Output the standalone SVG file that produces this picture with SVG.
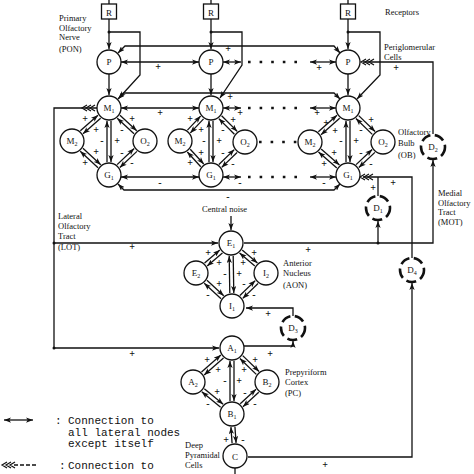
<svg xmlns="http://www.w3.org/2000/svg" width="474" height="474" viewBox="0 0 474 474">
<style>
.l{fill:none;stroke:#111;stroke-width:1.3}
.ae{marker-end:url(#a)}
.ab{marker-start:url(#a);marker-end:url(#a)}
.dot{fill:none;stroke:#111;stroke-width:2.6;stroke-dasharray:2.6 9}
.n{fill:#fff;stroke:#111;stroke-width:1.3}
.d{fill:#fff;stroke:#111;stroke-width:2.6;stroke-dasharray:10 4.5}
.t{font-family:"Liberation Serif",serif;font-size:9px;fill:#111;text-anchor:middle}
.s{font-family:"Liberation Serif",serif;font-size:10px;fill:#111;text-anchor:middle;font-weight:bold}
.lab{font-family:"Liberation Serif",serif;font-size:8.5px;fill:#111}
.m{font-family:"Liberation Mono",monospace;font-size:11px;fill:#111}
.jd{fill:#111}
</style>
<defs>
<marker id="a" viewBox="0 0 8 6" refX="8" refY="3" markerWidth="7" markerHeight="5.5" markerUnits="userSpaceOnUse" orient="auto-start-reverse"><path d="M0,0 L8,3 L0,6 L2,3 z" fill="#111"/></marker>
<path id="ch3" d="M5,-3 L0,0 L5,3 M9,-3 L4,0 L9,3 M13,-3 L8,0 L13,3" fill="none" stroke="#111" stroke-width="1.2"/>
</defs>

<g id="connectors">
<path class="l" d="M109,0 V4 M211,0 V4 M348,0 V4"/>
<path class="l ae" d="M109,19 V49"/>
<path class="l ae" d="M211,19 V49"/>
<path class="l ae" d="M348,19 V49"/>
<path class="l ae" d="M109,32 H140 V75 L119,98"/>
<path class="l ae" d="M211,32 H242 V65 L220,98"/>
<path class="l ae" d="M348,32 H380 V75 L357,99"/>
<circle class="jd" cx="109" cy="32" r="1.5"/><circle class="jd" cx="211" cy="32" r="1.5"/><circle class="jd" cx="348" cy="32" r="1.5"/>
<path class="l ae" d="M109,74 V95"/>
<path class="l ae" d="M211,74 V95"/>
<path class="l ae" d="M348,74 V95"/>
<path class="l ab" d="M118,53 L125,46 H334 L340,53"/>
<path class="l ab" d="M121,62 H199"/>
<path class="l ab" d="M223,62 H241"/>
<path class="dot" d="M248,62 H305"/>
<path class="l ab" d="M310,62 H336"/>
<path class="l ab" d="M118,99 L124,93 H334 L340,99"/>
<path class="l ab" d="M121,108 H199"/>
<path class="l ab" d="M223,108 H241"/>
<path class="dot" d="M248,108 H305"/>
<path class="l ab" d="M310,108 H336"/>
<path class="dot" d="M259,142 H298"/>
<path class="l ab" d="M121,177 H199"/>
<path class="l ab" d="M223,177 H241"/>
<path class="dot" d="M248,177 H305"/>
<path class="l ab" d="M310,177 H336"/>
<path class="l ab" d="M118,184 L124,190 H334 L340,184"/>

<g transform="translate(109,108) rotate(138.3)"><line class="l ae" x1="13" y1="-2" x2="36.6" y2="-2"/><line class="l ae" x1="36.6" y1="2" x2="13" y2="2"/></g>
<g transform="translate(109,108) rotate(42.5)"><line class="l ae" x1="13" y1="-2" x2="35.8" y2="-2"/><line class="l ae" x1="35.8" y1="2" x2="13" y2="2"/></g>
<g transform="translate(72,141) rotate(42.6)"><line class="l ae" x1="13" y1="-2" x2="37.2" y2="-2"/><line class="l ae" x1="37.2" y1="2" x2="13" y2="2"/></g>
<g transform="translate(145,141) rotate(136.6)"><line class="l ae" x1="13" y1="-2" x2="36.5" y2="-2"/><line class="l ae" x1="36.5" y1="2" x2="13" y2="2"/></g>
<g transform="translate(109,108) rotate(90)"><line class="l ae" x1="13" y1="-2" x2="54" y2="-2"/><line class="l ae" x1="54" y1="2" x2="13" y2="2"/></g>
<g transform="translate(211,108) rotate(133.2)"><line class="l ae" x1="13" y1="-2" x2="32.3" y2="-2"/><line class="l ae" x1="32.3" y1="2" x2="13" y2="2"/></g>
<g transform="translate(211,108) rotate(45)"><line class="l ae" x1="13" y1="-2" x2="35.1" y2="-2"/><line class="l ae" x1="35.1" y1="2" x2="13" y2="2"/></g>
<g transform="translate(180,141) rotate(47.6)"><line class="l ae" x1="13" y1="-2" x2="33" y2="-2"/><line class="l ae" x1="33" y1="2" x2="13" y2="2"/></g>
<g transform="translate(245,142) rotate(135.9)"><line class="l ae" x1="13" y1="-2" x2="34.4" y2="-2"/><line class="l ae" x1="34.4" y1="2" x2="13" y2="2"/></g>
<g transform="translate(211,108) rotate(90)"><line class="l ae" x1="13" y1="-2" x2="54" y2="-2"/><line class="l ae" x1="54" y1="2" x2="13" y2="2"/></g>
<g transform="translate(348,108) rotate(138.2)"><line class="l ae" x1="13" y1="-2" x2="38" y2="-2"/><line class="l ae" x1="38" y1="2" x2="13" y2="2"/></g>
<g transform="translate(348,108) rotate(44.2)"><line class="l ae" x1="13" y1="-2" x2="35.8" y2="-2"/><line class="l ae" x1="35.8" y1="2" x2="13" y2="2"/></g>
<g transform="translate(310,142) rotate(41)"><line class="l ae" x1="13" y1="-2" x2="37.3" y2="-2"/><line class="l ae" x1="37.3" y1="2" x2="13" y2="2"/></g>
<g transform="translate(383,142) rotate(136.7)"><line class="l ae" x1="13" y1="-2" x2="35.1" y2="-2"/><line class="l ae" x1="35.1" y1="2" x2="13" y2="2"/></g>
<g transform="translate(348,108) rotate(90)"><line class="l ae" x1="13" y1="-2" x2="54" y2="-2"/><line class="l ae" x1="54" y1="2" x2="13" y2="2"/></g>
<g transform="translate(231,243) rotate(139.4)"><line class="l ae" x1="13" y1="-2" x2="33.1" y2="-2"/><line class="l ae" x1="33.1" y1="2" x2="13" y2="2"/></g>
<g transform="translate(231,243) rotate(40.6)"><line class="l ae" x1="13" y1="-2" x2="33.1" y2="-2"/><line class="l ae" x1="33.1" y1="2" x2="13" y2="2"/></g>
<g transform="translate(196,273) rotate(42.5)"><line class="l ae" x1="13" y1="-2" x2="35.8" y2="-2"/><line class="l ae" x1="35.8" y1="2" x2="13" y2="2"/></g>
<g transform="translate(266,273) rotate(135.9)"><line class="l ae" x1="13" y1="-2" x2="34.4" y2="-2"/><line class="l ae" x1="34.4" y1="2" x2="13" y2="2"/></g>
<g transform="translate(231,243) rotate(89.1)"><line class="l ae" x1="13" y1="-2" x2="50" y2="-2"/><line class="l ae" x1="50" y1="2" x2="13" y2="2"/></g>
<g transform="translate(232,348) rotate(138.9)"><line class="l ae" x1="13" y1="-2" x2="38.7" y2="-2"/><line class="l ae" x1="38.7" y1="2" x2="13" y2="2"/></g>
<g transform="translate(232,348) rotate(44.2)"><line class="l ae" x1="13" y1="-2" x2="35.8" y2="-2"/><line class="l ae" x1="35.8" y1="2" x2="13" y2="2"/></g>
<g transform="translate(193,382) rotate(39.4)"><line class="l ae" x1="13" y1="-2" x2="37.4" y2="-2"/><line class="l ae" x1="37.4" y1="2" x2="13" y2="2"/></g>
<g transform="translate(267,382) rotate(137.6)"><line class="l ae" x1="13" y1="-2" x2="34.4" y2="-2"/><line class="l ae" x1="34.4" y1="2" x2="13" y2="2"/></g>
<g transform="translate(232,348) rotate(90)"><line class="l ae" x1="13" y1="-2" x2="53" y2="-2"/><line class="l ae" x1="53" y1="2" x2="13" y2="2"/></g>
<g transform="translate(232,414) rotate(85.9)"><line class="l ae" x1="13" y1="-2" x2="29.1" y2="-2"/><line class="l ae" x1="29.1" y1="2" x2="13" y2="2"/></g>

<path class="l ae" d="M97,108 H54 V348 H219"/>
<use href="#ch3" transform="translate(82,108)"/>
<path class="l ae" d="M54,243 H218"/>
<circle class="jd" cx="54" cy="243" r="1.5"/><circle class="jd" cx="54" cy="348" r="1.5"/>
<path class="l ae" d="M231,216 V230"/>
<path class="l ae" d="M244,243 H433 V160"/>
<path class="l ae" d="M378,243 V221"/>
<circle class="jd" cx="378" cy="243" r="1.5"/>
<path class="l" d="M433,134 V62 H363"/>
<use href="#ch3" transform="translate(361,62)"/>
<path class="l" d="M412,258 V177 H363"/>
<path class="l" d="M378,196 V177"/>
<use href="#ch3" transform="translate(360,177)"/>
<path class="l ae" d="M248,457 H412 V283"/>
<path class="l" d="M235,468 V474"/>
<path class="l ae" d="M293,316 V308 H246"/>
<path class="l ae" d="M244,346 H293 V341"/>
</g>

<g id="signs">
<text class="s" x="228" y="52">+</text>
<text class="s" x="158" y="70">+</text>
<text class="s" x="319" y="71">+</text>
<text class="s" x="396" y="71">+</text>
<text class="s" x="230" y="100">+</text>
<text class="s" x="160" y="116">+</text>
<text class="s" x="240" y="116">+</text>
<text class="s" x="317" y="116">+</text>
<text class="s" x="160" y="186">-</text>
<text class="s" x="240" y="186">-</text>
<text class="s" x="324" y="186">-</text>
<text class="s" x="228" y="200">-</text>
<text class="s" x="373" y="191">+</text>
<text class="s" x="393" y="186">+</text>
<text class="s" x="132" y="250">+</text>
<text class="s" x="132" y="357">+</text>
<text class="s" x="308" y="253">+</text>
<text class="s" x="268" y="317">+</text>
<text class="s" x="270" y="357">+</text>
<text class="s" x="325" y="468">+</text>
<text class="s" x="226" y="443">+</text>
<text class="s" x="243" y="443">-</text>
<text class="s" x="85" y="122">+</text><text class="s" x="96" y="133">+</text>
<text class="s" x="132" y="122">+</text><text class="s" x="122" y="133">-</text>
<text class="s" x="85" y="166">+</text><text class="s" x="96" y="155">+</text>
<text class="s" x="132" y="166">-</text><text class="s" x="122" y="156">-</text>
<text class="s" x="102" y="144">-</text><text class="s" x="117" y="144">+</text>
<text class="s" x="190" y="122">+</text><text class="s" x="201" y="133">+</text>
<text class="s" x="233" y="123">+</text><text class="s" x="223" y="133">-</text>
<text class="s" x="190" y="166">+</text><text class="s" x="201" y="156">+</text>
<text class="s" x="233" y="167">-</text><text class="s" x="223" y="156">-</text>
<text class="s" x="204" y="144">-</text><text class="s" x="219" y="144">+</text>
<text class="s" x="326" y="126">+</text><text class="s" x="335" y="134">+</text>
<text class="s" x="371" y="123">+</text><text class="s" x="361" y="133">-</text>
<text class="s" x="324" y="167">+</text><text class="s" x="334" y="156">+</text>
<text class="s" x="371" y="167">-</text><text class="s" x="361" y="156">-</text>
<text class="s" x="341" y="144">-</text><text class="s" x="356" y="144">+</text>
<text class="s" x="208" y="256">+</text><text class="s" x="219" y="266">+</text>
<text class="s" x="254" y="256">+</text><text class="s" x="243" y="266">+</text>
<text class="s" x="208" y="298">-</text><text class="s" x="219" y="287">+</text>
<text class="s" x="254" y="298">-</text><text class="s" x="244" y="287">-</text>
<text class="s" x="225" y="277">-</text><text class="s" x="239" y="277">+</text>
<text class="s" x="207" y="363">+</text><text class="s" x="218" y="373">+</text>
<text class="s" x="255" y="363">+</text><text class="s" x="244" y="373">+</text>
<text class="s" x="208" y="407">-</text><text class="s" x="217" y="395">+</text>
<text class="s" x="255" y="407">-</text><text class="s" x="245" y="396">-</text>
<text class="s" x="225" y="384">-</text><text class="s" x="239" y="384">+</text>
</g>

<g id="R1"><rect class="n" x="101.5" y="4" width="15" height="15"/><text class="t" x="109" y="15.5" font-size="11">R</text></g>
<g id="R2"><rect class="n" x="203.5" y="4" width="15" height="15"/><text class="t" x="211" y="15.5" font-size="11">R</text></g>
<g id="R3"><rect class="n" x="340.5" y="4" width="15" height="15"/><text class="t" x="348" y="15.5" font-size="11">R</text></g>

<g id="P1"><circle class="n" cx="109" cy="62" r="12"/><text class="t" x="109" y="65" font-size="7">P</text></g>
<g id="P2"><circle class="n" cx="211" cy="62" r="12"/><text class="t" x="211" y="65" font-size="7">P</text></g>
<g id="P3"><circle class="n" cx="348" cy="62" r="12"/><text class="t" x="348" y="65" font-size="7">P</text></g>

<g id="M1a"><circle class="n" cx="109" cy="108" r="12"/><text class="t" x="109" y="111">M<tspan font-size="6" dy="1.5">1</tspan></text></g>
<g id="M2a"><circle class="n" cx="72" cy="141" r="12"/><text class="t" x="72" y="144">M<tspan font-size="6" dy="1.5">2</tspan></text></g>
<g id="O2a"><circle class="n" cx="145" cy="141" r="12"/><text class="t" x="145" y="144">O<tspan font-size="6" dy="1.5">2</tspan></text></g>
<g id="G1a"><circle class="n" cx="109" cy="175" r="12"/><text class="t" x="109" y="178">G<tspan font-size="6" dy="1.5">1</tspan></text></g>

<g id="M1b"><circle class="n" cx="211" cy="108" r="12"/><text class="t" x="211" y="111">M<tspan font-size="6" dy="1.5">1</tspan></text></g>
<g id="M2b"><circle class="n" cx="180" cy="141" r="12"/><text class="t" x="180" y="144">M<tspan font-size="6" dy="1.5">2</tspan></text></g>
<g id="O2b"><circle class="n" cx="245" cy="142" r="12"/><text class="t" x="245" y="145">O<tspan font-size="6" dy="1.5">2</tspan></text></g>
<g id="G1b"><circle class="n" cx="211" cy="175" r="12"/><text class="t" x="211" y="178">G<tspan font-size="6" dy="1.5">1</tspan></text></g>

<g id="M1c"><circle class="n" cx="348" cy="108" r="12"/><text class="t" x="348" y="111">M<tspan font-size="6" dy="1.5">1</tspan></text></g>
<g id="M2c"><circle class="n" cx="310" cy="142" r="12"/><text class="t" x="310" y="145">M<tspan font-size="6" dy="1.5">2</tspan></text></g>
<g id="O2c"><circle class="n" cx="383" cy="142" r="12"/><text class="t" x="383" y="145">O<tspan font-size="6" dy="1.5">2</tspan></text></g>
<g id="G1c"><circle class="n" cx="348" cy="175" r="12"/><text class="t" x="348" y="178">G<tspan font-size="6" dy="1.5">1</tspan></text></g>

<g id="E1"><circle class="n" cx="231" cy="243" r="12"/><text class="t" x="231" y="246">E<tspan font-size="6" dy="1.5">1</tspan></text></g>
<g id="E2"><circle class="n" cx="196" cy="273" r="12"/><text class="t" x="196" y="276">E<tspan font-size="6" dy="1.5">2</tspan></text></g>
<g id="I2"><circle class="n" cx="266" cy="273" r="12"/><text class="t" x="266" y="276">I<tspan font-size="6" dy="1.5">2</tspan></text></g>
<g id="I1"><circle class="n" cx="232" cy="306" r="12"/><text class="t" x="232" y="309">I<tspan font-size="6" dy="1.5">1</tspan></text></g>

<g id="A1"><circle class="n" cx="232" cy="348" r="12"/><text class="t" x="232" y="351">A<tspan font-size="6" dy="1.5">1</tspan></text></g>
<g id="A2"><circle class="n" cx="193" cy="382" r="12"/><text class="t" x="193" y="385">A<tspan font-size="6" dy="1.5">2</tspan></text></g>
<g id="B2"><circle class="n" cx="267" cy="382" r="12"/><text class="t" x="267" y="385">B<tspan font-size="6" dy="1.5">2</tspan></text></g>
<g id="B1"><circle class="n" cx="232" cy="414" r="12"/><text class="t" x="232" y="417">B<tspan font-size="6" dy="1.5">1</tspan></text></g>
<g id="C"><circle class="n" cx="235" cy="456" r="12"/><text class="t" x="235" y="460" font-size="10">C</text></g>

<g id="D1"><circle class="d" cx="378" cy="208" r="12"/><text class="t" x="378" y="211">D<tspan font-size="6" dy="1.5">1</tspan></text></g>
<g id="D2"><circle class="d" cx="433" cy="147" r="12"/><text class="t" x="433" y="150">D<tspan font-size="6" dy="1.5">2</tspan></text></g>
<g id="D3"><circle class="d" cx="293" cy="328" r="12"/><text class="t" x="293" y="331">D<tspan font-size="6" dy="1.5">3</tspan></text></g>
<g id="D4"><circle class="d" cx="412" cy="270" r="12"/><text class="t" x="412" y="273">D<tspan font-size="6" dy="1.5">4</tspan></text></g>

<g id="labels">
<text class="lab" x="59" y="21">Primary</text>
<text class="lab" x="59" y="30.5">Olfactory</text>
<text class="lab" x="59" y="40">Nerve</text>
<text class="lab" x="59" y="52" font-size="10">(PON)</text>
<text class="lab" x="385" y="15">Receptors</text>
<text class="lab" x="384" y="50">Periglomerular</text>
<text class="lab" x="384" y="60">Cells</text>
<text class="lab" x="398" y="135">Olfactory</text>
<text class="lab" x="398" y="146">Bulb</text>
<text class="lab" x="398" y="158">(OB)</text>
<text class="lab" x="438" y="196">Medial</text>
<text class="lab" x="438" y="205.5">Olfactory</text>
<text class="lab" x="438" y="215">Tract</text>
<text class="lab" x="438" y="225">(MOT)</text>
<text class="lab" x="58" y="219">Lateral</text>
<text class="lab" x="58" y="229">Olfactory</text>
<text class="lab" x="58" y="239">Tract</text>
<text class="lab" x="58" y="250">(LOT)</text>
<text class="lab" x="202" y="212" font-size="13.5">Central noise</text>
<text class="lab" x="283" y="266">Anterior</text>
<text class="lab" x="283" y="276">Nucleus</text>
<text class="lab" x="283" y="288">(AON)</text>
<text class="lab" x="285" y="375">Prepyriform</text>
<text class="lab" x="285" y="385">Cortex</text>
<text class="lab" x="285" y="396">(PC)</text>
<text class="lab" x="185" y="448">Deep</text>
<text class="lab" x="185" y="458">Pyramidal</text>
<text class="lab" x="185" y="468">Cells</text>
</g>

<g id="legend">
<path class="l ab" d="M4,420 H33"/>
<text class="m" x="55" y="424">:</text>
<text class="m" x="68" y="424">Connection to</text>
<text class="m" x="68" y="436">all lateral nodes</text>
<text class="m" x="68" y="447">except itself</text>
<use href="#ch3" transform="translate(2,465)"/>
<path class="l" d="M14,465 H36" stroke-dasharray="4 2"/>
<text class="m" x="59" y="469">:</text>
<text class="m" x="68" y="469">Connection to</text>
</g>
</svg>
